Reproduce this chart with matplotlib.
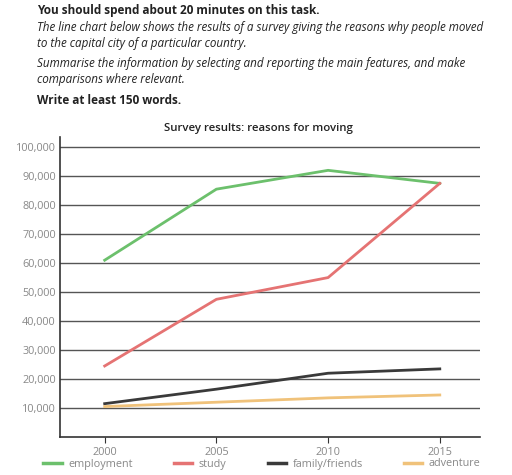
import matplotlib
matplotlib.use("Agg")
import matplotlib.pyplot as plt
from matplotlib.lines import Line2D

years = [2000, 2005, 2010, 2015]
employment = [61000, 85500, 92000, 87500]
study = [24500, 47500, 55000, 87500]
family_friends = [11500, 16500, 22000, 23500]
adventure = [10500, 12000, 13500, 14500]
series_names = ["employment", "study", "family/friends", "adventure"]
colors = ["#6cc06c", "#e57373", "#3a3a3a", "#f0c27a"]
yticks = list(range(10000, 100001, 10000))

plt.rcParams['font.family'] = ['Open Sans', 'DejaVu Sans']

fig = plt.figure(figsize=(5.12, 4.75), dpi=100)

# Task text
fig.text(37/512, 1-4/475, "You should spend about 20 minutes on this task.",
         fontsize=8.5, fontweight='bold', va='top', ha='left', color='#222222')
fig.text(37/512, 1-21/475, "The line chart below shows the results of a survey giving the reasons why people moved\nto the capital city of a particular country.",
         fontsize=8.4, style='italic', va='top', ha='left', color='#222222', linespacing=1.25)
fig.text(37/512, 1-57/475, "Summarise the information by selecting and reporting the main features, and make\ncomparisons where relevant.",
         fontsize=8.4, style='italic', va='top', ha='left', color='#222222', linespacing=1.25)
fig.text(37/512, 1-94/475, "Write at least 150 words.",
         fontsize=8.5, fontweight='bold', va='top', ha='left', color='#222222')

ax = fig.add_axes([60/512, 38/475, 420/512, 300/475])
ax.set_xlim(1998.0, 2016.8)
ax.set_ylim(0, 103500)

for yv in yticks:
    ax.axhline(yv, color='#555555', lw=1.0, zorder=1)

data = [employment, study, family_friends, adventure]
for vals, c in zip(data, colors):
    ax.plot(years, vals, color=c, lw=2.0, zorder=3)

ax.set_xticks(years)
ax.set_yticks(yticks)
ax.set_yticklabels([f"{v:,}" for v in yticks])
ax.tick_params(axis='both', colors='#333333', labelcolor='#888888', labelsize=7.8)
ax.tick_params(axis='y', length=0, pad=3)
ax.tick_params(axis='x', length=4, direction='out')
for s in ['top', 'right']:
    ax.spines[s].set_visible(False)
for s in ['left', 'bottom']:
    ax.spines[s].set_color('#333333')
    ax.spines[s].set_linewidth(1.2)

fig.text(258/512, 1-129/475, "Survey results: reasons for moving", fontsize=8.2,
         fontweight='semibold', ha='center', va='center', color='#222222')

handles = [Line2D([0], [0], color=c, lw=2.5) for c in colors]
fig.legend(handles, series_names, loc='center', bbox_to_anchor=(262/512, 1-464/475),
           ncol=4, frameon=False, fontsize=7.8, handlelength=1.7, columnspacing=3.8,
           handletextpad=0.6, labelcolor='#888888')

fig.savefig("out.png", dpi=100)
